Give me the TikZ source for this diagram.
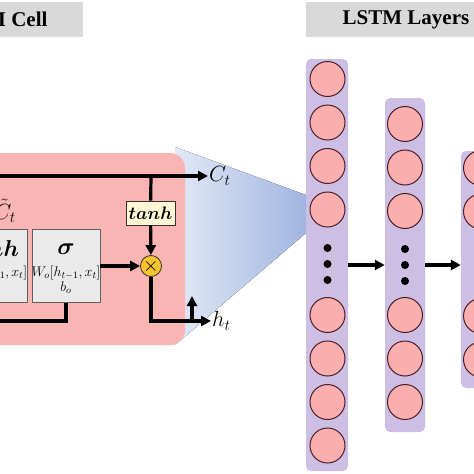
\RequirePackage{fix-cm}
\documentclass[tikz,border=0pt]{standalone}
\usepackage{fontspec}
\setmainfont{Liberation Serif}
\usepackage{amsmath,bm}
\usetikzlibrary{arrows.meta}
\usetikzlibrary{positioning}
\definecolor{cellpink}{RGB}{249,180,180}
\definecolor{neuronpink}{RGB}{251,174,174}
\definecolor{neuronline}{RGB}{75,30,40}
\definecolor{lavender}{RGB}{205,190,228}
\definecolor{gategray}{RGB}{234,234,234}
\definecolor{tanhcream}{RGB}{255,246,214}
\definecolor{mulgold}{RGB}{247,196,48}
\definecolor{titlegray}{RGB}{217,217,217}
\definecolor{beamlight}{RGB}{226,233,246}
\definecolor{beamdark}{RGB}{160,181,224}

\begin{document}
\begin{tikzpicture}[x=1pt,y=-1pt,node distance=43.5pt,
	neuron/.style={circle, draw=neuronline, line width=1pt, fill=neuronpink, minimum size=35pt, inner sep=0pt},
	layer/.style={rectangle, fill=lavender, rounded corners=5pt, inner sep=0pt},
	dot/.style={circle, fill=black, minimum size=8pt, inner sep=0pt},
	gate/.style={rectangle, draw=gray!75!black, line width=0.8pt, fill=gategray, minimum width=68pt, minimum height=73pt, inner sep=0pt},
	titlebox/.style={rectangle, fill=titlegray, minimum width=172pt, minimum height=35pt, inner sep=0pt, font=\fontsize{21}{24}\selectfont\bfseries},
	flow/.style={line width=3.2pt},
	arr/.style={line width=3.2pt, -{Triangle[length=10pt,width=10pt]}},
	lbl/.style={inner sep=1pt, font=\fontsize{22}{24}\selectfont}]
	
	\useasboundingbox (0,0) rectangle (474,474);
	\clip (0,0) rectangle (474,474);
	
	% titles
	\node[titlebox] (celltitle) at (-3,19.5) {LSTM Cell};
	\node[titlebox, minimum width=200pt] (layertitle) at (406,19.5) {LSTM Layers};
	
	% beam from the cell to the first layer
	\fill[left color=beamlight, right color=beamdark] (175,147) -- (306,195) -- (306,233) -- (175,345) -- cycle;
	
	% LSTM cell
	\node[rectangle, fill=cellpink, rounded corners=15pt, minimum width=225pt, minimum height=192pt] (cell) at (72.5,249) {};
	
	\node[gate] (tanhc) at (-7,266) {};
	\node[gate] (sig) at (66,266) {};
	\node[font=\fontsize{23}{25}\selectfont] at (-9,249) {$\bm{tanh}$};
	\node[font=\fontsize{14}{16}\selectfont] at (-7,273) {$W_c[h_{t-1},x_t]$};
	\node[font=\fontsize{14}{16}\selectfont] at (-7,288) {$b_c$};
	\node[font=\fontsize{24}{26}\selectfont] at (66,249) {$\bm{\sigma}$};
	\node[font=\fontsize{14}{16}\selectfont] at (66,273) {$W_o[h_{t-1},x_t]$};
	\node[font=\fontsize{14}{16}\selectfont] at (66,288) {$b_o$};
	
	\node[rectangle, draw=black!80, line width=0.8pt, fill=tanhcream, minimum width=49pt, minimum height=24pt, inner sep=0pt, font=\fontsize{18}{20}\selectfont] (tanho) at (150.5,213) {$\bm{tanh}$};
	\node[circle, draw=black!80, line width=0.8pt, fill=mulgold, minimum size=21pt, inner sep=0pt, font=\fontsize{20}{22}\selectfont] (mul) at (151,266) {$\times$};
	
	\node[lbl, anchor=west] (ct) at (208,176) {$C_t$};
	\node[lbl, anchor=west] (ht) at (211,321) {$h_t$};
	\node[lbl, anchor=east] (cand) at (17,211) {$\tilde{C}_t$};
	
	\coordinate (cin) at (-10,176);
	\coordinate (jt) at (151,176);
	\coordinate (xin) at (-10,321);
	\coordinate (hup) at (192,321);
	\coordinate (hupt) at (192,296);
	
	\draw[arr] (cin) -- (ct.west);
	\draw[flow] (jt) -- (tanho);
	\draw[arr] (tanho) -- (mul);
	\draw[arr] (sig) -- (mul);
	\draw[arr] (mul) |- (ht.west);
	\draw[arr] (hup) -- (hupt);
	\draw[flow] (xin) -| (sig.south);
	
	% LSTM layers
	\node[layer, minimum width=42pt, minimum height=412pt] (col1) at (327,265) {};
	\node[layer, minimum width=40pt, minimum height=334pt] (col2) at (405,265) {};
	\node[layer, minimum width=40pt, minimum height=237pt] (col3) at (481,269.5) {};
	
	\node[neuron] (a1) at (327.5,79) {};
	\node[neuron] (a2) [below of=a1] {};
	\node[neuron] (a3) [below of=a2] {};
	\node[neuron] (a4) [below of=a3] {};
	\node[neuron] (a5) at (327.5,315) {};
	\node[neuron] (a6) [below of=a5] {};
	\node[neuron] (a7) [below of=a6] {};
	\node[neuron] (a8) [below of=a7] {};
	
	\node[neuron] (b1) at (405,124) {};
	\node[neuron] (b2) [below of=b1] {};
	\node[neuron] (b3) [below of=b2] {};
	\node[neuron] (b4) at (405,315) {};
	\node[neuron] (b5) [below of=b4] {};
	\node[neuron] (b6) [below of=b5] {};
	
	\node[neuron] (c1) at (481,168) {};
	\node[neuron] (c2) [below of=c1] {};
	\node[neuron] (c3) at (481,316) {};
	\node[neuron] (c4) [below of=c3] {};
	
	\node[dot] at (327.5,248) {};
	\node[dot] at (327.5,264) {};
	\node[dot] at (327.5,280) {};
	\node[dot] at (405,249) {};
	\node[dot] at (405,265) {};
	\node[dot] at (405,281) {};
	
	\draw[arr] (col1) -- (col2);
	\draw[arr] (col2.east) -- (col3.west |- col2.east);
	
\end{tikzpicture}
\end{document}
